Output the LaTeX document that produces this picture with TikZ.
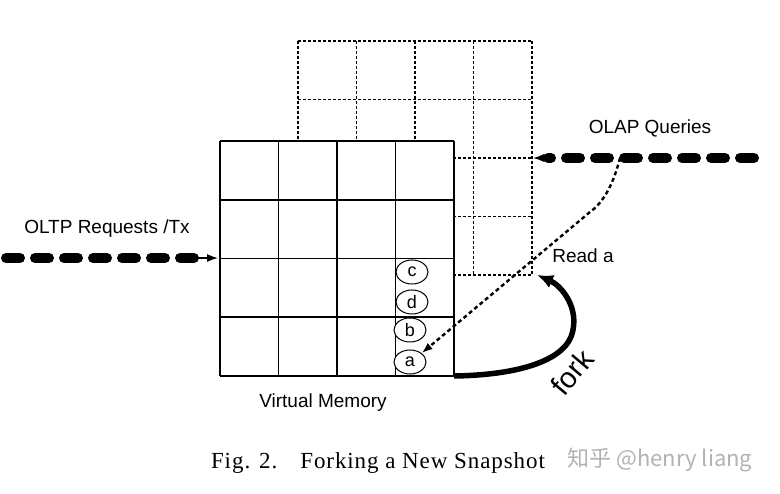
\documentclass[tikz,border=0pt]{standalone}
\usepackage{fontspec}
\setmainfont{Liberation Sans}
\newfontfamily\seriffont[LetterSpace=4]{Liberation Serif}
\newfontfamily\cjk{Noto Sans CJK SC}
\usetikzlibrary{arrows.meta,shapes.geometric}
\begin{document}
\begin{tikzpicture}[x=1pt,y=-1pt,
  lbl/.style={font=\fontsize{19}{22}\selectfont},
  cell/.style={draw,ellipse,line width=1pt,inner sep=0pt,minimum width=32pt,minimum height=24pt,fill=white,font=\fontsize{18}{20}\selectfont},
  thickdash/.style={line width=10pt,line cap=round,dash pattern=on 14pt off 15pt},
  tip/.style={-{Latex[length=11pt,width=8pt]}}]
\useasboundingbox (0,0) rectangle (780,494);
% dashed (snapshot) grid
\foreach \i in {0,...,4}{
  \draw[dash pattern=on 3pt off 2pt,line width=1.3pt] (298+58.5*\i,41) -- (298+58.5*\i,275);
  \draw[dash pattern=on 3pt off 2pt,line width=1.3pt] (298,41+58.5*\i) -- (532,41+58.5*\i);}
% solid grid
\fill[white] (220,141) rectangle (454,376);
\foreach \i in {0,...,4}{
  \draw[line width=1.8pt] (220+58.5*\i,141) -- (220+58.5*\i,376);
  \draw[line width=1.8pt] (220,141+58.75*\i) -- (454,141+58.75*\i);}
\node[cell] (c) at (412,272) {c};
\node[cell] (d) at (412,302) {d};
\node[cell] (b) at (410,330) {b};
\node[cell] (a) at (410,362) {a};
% labels
\node[lbl] (oltp) at (107,229) {OLTP Requests /Tx};
\node[lbl] (olap) at (650,128) {OLAP Queries};
\node[lbl] (read) at (583,256) {Read a};
\node[lbl] (vm) at (323,403) {Virtual Memory};
\node[font=\fontsize{29}{32}\selectfont,rotate=50] (fork) at (572,372) {fork};
\coordinate (oltpS) at (6,258);
\coordinate (oltpE) at (218,258);
\coordinate (olapS) at (754,158);
\coordinate (olapE) at (533,158);
\coordinate (q) at (620,158);
\coordinate (forkS) at (454,376);
\coordinate (forkE) at (537,275);
% thick dashed request lines
\draw[thickdash] (oltpS) -- (196,258);
\draw[tip,line width=1.3pt] (196,258) -- (oltpE);
\draw[thickdash] (olapS) -- (548,158);
\draw[tip,line width=1.3pt] (548,158) -- (olapE);
% read a
\draw[tip,line width=2.4pt,dash pattern=on 4pt off 3pt] (q) .. controls (612,190) and (600,205) .. (590,212) -- (a.north east);
% fork
\draw[line width=5.5pt,-{Latex[length=16pt,width=14pt]}] (forkS) .. controls (520,375) and (568,360) .. (573,330) .. controls (578,305) and (560,285) .. (forkE);
% caption
\node[font=\seriffont\fontsize{23}{26}\selectfont] (cap) at (378,463) {Fig. 2.\quad Forking a New Snapshot};
\node[font=\cjk\fontsize{22}{25}\selectfont,text=gray!60] (wm) at (660,460) {知乎 @henry liang};
\end{tikzpicture}
\end{document}
